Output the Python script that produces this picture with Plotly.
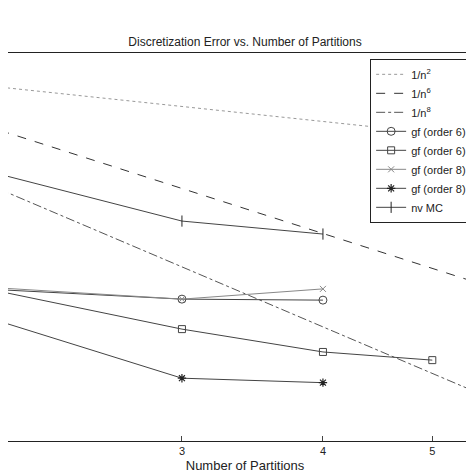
import plotly.graph_objects as go

# data (log-log axes)
n_ref = [2, 6]
ref_n2 = [0.289, 0.0321]
ref_n6 = [0.063, 8.6e-5]
ref_n8 = [7.0e-3, 1.06e-6]

n_34 = [2, 3, 4]
n_345 = [2, 3, 4, 5]
gf6_m = [1.17e-4, 7.9e-5, 7.6e-5]
gf6_q = [1.21e-4, 2.5e-5, 1.04e-5, 7.6e-6]
gf8_m = [1.26e-4, 7.9e-5, 1.17e-4]
gf8_q = [4.1e-5, 3.8e-6, 3.2e-6]
nv_mc = [1.12e-2, 1.58e-3, 9.6e-4]

fig = go.Figure()
line = dict(color="#444", width=1)
fig.add_trace(go.Scatter(x=n_ref, y=ref_n2, mode="lines", name="1/n<sup>2</sup>",
                         line=dict(color="#999", width=1, dash="dot")))
fig.add_trace(go.Scatter(x=n_ref, y=ref_n6, mode="lines", name="1/n<sup>6</sup>",
                         line=dict(color="#333", width=1, dash="dash")))
fig.add_trace(go.Scatter(x=n_ref, y=ref_n8, mode="lines", name="1/n<sup>8</sup>",
                         line=dict(color="#555", width=1, dash="dashdot")))
fig.add_trace(go.Scatter(x=n_34, y=gf6_m, mode="lines+markers", name="gf (order 6) MC",
                         line=line, marker=dict(symbol="circle-open", size=8, color="#444")))
fig.add_trace(go.Scatter(x=n_345, y=gf6_q, mode="lines+markers", name="gf (order 6) QMC",
                         line=line, marker=dict(symbol="square-open", size=7, color="#444")))
fig.add_trace(go.Scatter(x=n_34, y=gf8_m, mode="lines+markers", name="gf (order 8) MC",
                         line=dict(color="#888", width=1),
                         marker=dict(symbol="x-thin-open", size=6, color="#888", line=dict(width=1, color="#888"))))
fig.add_trace(go.Scatter(x=n_34, y=gf8_q, mode="lines+markers", name="gf (order 8) QMC",
                         line=line, marker=dict(symbol="asterisk-open", size=7, color="#222", line=dict(width=1.2, color="#222"))))
fig.add_trace(go.Scatter(x=n_34, y=nv_mc, mode="lines+markers", name="nv MC",
                         line=line, marker=dict(symbol="line-ns-open", size=8, color="#222", line=dict(width=1, color="#222"))))

fig.update_layout(
    width=474, height=474,
    margin=dict(l=0, r=0, t=45, b=41, autoexpand=False),
    plot_bgcolor="white", paper_bgcolor="white",
    font=dict(family="Liberation Sans, Arial", size=11, color="#222"),
    title=dict(text="Discretization Error vs. Number of Partitions", x=0.5, xanchor="center",
               y=0.937, font=dict(size=12)),
    legend=dict(x=0.764, y=0.985, xanchor="left", yanchor="top", bgcolor="white",
                bordercolor="#222", borderwidth=1, font=dict(size=11),
                tracegroupgap=0, itemwidth=30),
)
fig.update_xaxes(type="log", range=[0.323, 0.743], tickvals=[3, 4, 5], ticktext=["3", "4", "5"],
                 ticks="inside", ticklen=5, showgrid=False, showline=True, linecolor="#222",
                 mirror=True, title=dict(text="Number of Partitions", standoff=4), zeroline=False,
                 automargin=False)
fig.update_yaxes(type="log", range=[-6.467, 0], showgrid=False, showline=True, linecolor="#222",
                 mirror=True, showticklabels=False, ticks="", automargin=False)
fig.write_html("out.html")
